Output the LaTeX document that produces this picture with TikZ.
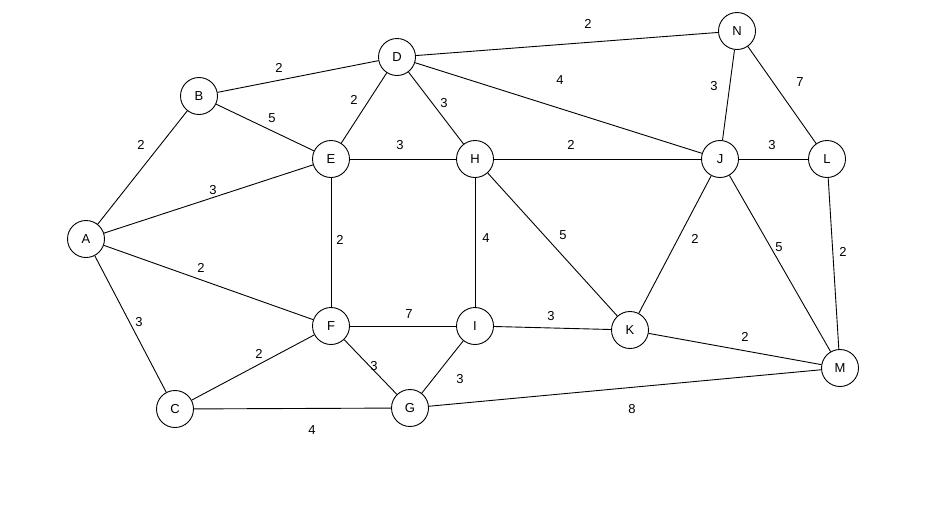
\documentclass[tikz,border=0pt]{standalone}
\usepackage{fontspec}
\setmainfont{Liberation Sans}
\begin{document}
\begin{tikzpicture}[x=1pt,y=-1pt,
  v/.style={circle,draw,line width=0.9pt,minimum size=37pt,inner sep=0pt,font=\fontsize{13}{13}\selectfont,fill=white},
  w/.style={font=\fontsize{13}{13}\selectfont,inner sep=0pt},
  e/.style={line width=0.9pt}]
\useasboundingbox (0,0) rectangle (946,520);
\foreach \n/\x/\y in {A/86/239,B/199/96,C/175/409,D/397/57,E/331/159,F/331/326,G/410/408,H/475/159,I/475/326,J/720/159,K/630/330,L/827/159,M/840/368,N/737/31}
  \node[v] (\n) at (\x,\y) {\n};
\foreach \a/\b in {B/D,D/N,B/A,B/E,D/E,D/H,D/J,N/J,N/L,E/H,H/J,J/L,A/E,E/F,H/I,H/K,J/K,J/M,L/M,A/F,A/C,F/I,I/K,K/M,C/F,F/G,I/G,C/G,G/M}
  \draw[e] (\a) -- (\b);
\foreach \t/\x/\y [count=\i] in {2/279/68,2/588/24,2/141/145,5/272/118,2/354/100,3/444/103,4/560/80,3/714/86,7/800/82,3/400/145,2/571/145,3/772/145,3/213/190,2/340/240,4/486/238,5/563/235,2/695/239,5/779/247,2/843/252,2/201/268,3/139/322,7/409/314,3/551/316,2/745/337,2/259/354,3/374/366,3/460/379,4/312/430,8/632/409}
  \node[w] (l\i) at (\x,\y) {\t};
\end{tikzpicture}
\end{document}
